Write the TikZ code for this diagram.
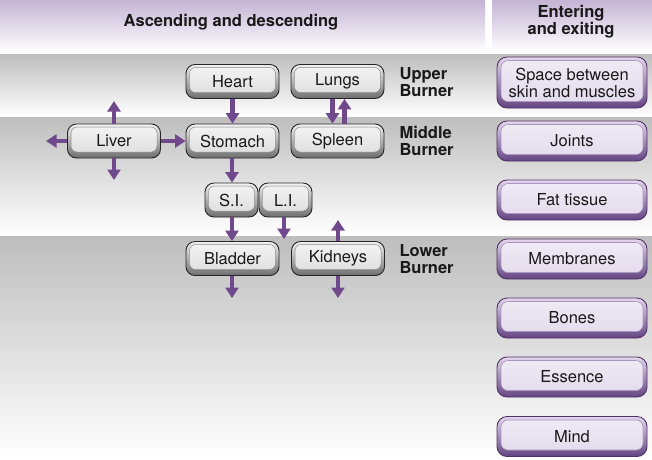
\documentclass[tikz,border=0pt]{standalone}
\usepackage{fontspec}
\setmainfont{TeX Gyre Heros}
\usetikzlibrary{arrows.meta}
\definecolor{arrowc}{RGB}{112,72,140}
\definecolor{hdrtop}{RGB}{196,180,213}
\definecolor{bandtop}{RGB}{190,190,190}
\definecolor{organtop}{RGB}{242,242,242}
\definecolor{organbot}{RGB}{110,110,110}
\definecolor{innertop}{RGB}{244,244,244}
\definecolor{innerbot}{RGB}{220,220,220}
\definecolor{seatline}{RGB}{78,50,101}
\definecolor{seattop}{RGB}{226,214,236}
\definecolor{seatbot}{RGB}{100,68,130}
\definecolor{seatintop}{RGB}{240,235,245}
\definecolor{seatinbot}{RGB}{226,218,236}
\definecolor{seatinline}{RGB}{170,150,190}
\begin{document}
\begin{tikzpicture}[x=1pt,y=-1pt,
  organ/.style={draw=black!85, line width=0.9pt, rounded corners=9pt,
    top color=organtop, bottom color=organbot,
    minimum width=93pt, minimum height=34pt, inner sep=0pt,
    font=\fontsize{16.5}{17}\selectfont, text=black!90,
    path picture={\draw[draw=black!45, line width=0.5pt, top color=innertop, bottom color=innerbot, rounded corners=6pt]
      ([shift={(3.5pt,-3pt)}]path picture bounding box.north west) rectangle
      ([shift={(-3.5pt,6pt)}]path picture bounding box.south east);}},
  seat/.style={draw=seatline, line width=0.9pt, rounded corners=10pt,
    top color=seattop, bottom color=seatbot,
    minimum width=150pt, minimum height=40pt, inner sep=0pt, align=center,
    font=\fontsize{16.5}{17}\selectfont, text=black!90,
    path picture={\draw[draw=seatinline, line width=0.6pt, top color=seatintop, bottom color=seatinbot, rounded corners=7pt]
      ([shift={(4pt,-3.5pt)}]path picture bounding box.north west) rectangle
      ([shift={(-4pt,6.5pt)}]path picture bounding box.south east);}},
  burner/.style={anchor=west, align=left, font=\fontsize{16.5}{17}\selectfont\bfseries, text=black!90},
  head/.style={align=center, font=\fontsize{16.5}{17}\selectfont\bfseries, text=black!90},
  arr/.style={draw=arrowc, line width=4.5pt, -{Triangle[width=13pt,length=10.5pt]}}
]
\useasboundingbox (0,0) rectangle (652,459);
\fill[white] (0,0) rectangle (652,459);
% header bands
\shade[top color=hdrtop, bottom color=white] (0,0) rectangle (485,52);
\shade[top color=hdrtop, bottom color=white] (492,0) rectangle (652,52);
% burner bands
\shade[top color=bandtop, bottom color=white] (0,54) rectangle (652,117);
\shade[top color=bandtop, bottom color=white] (0,117) rectangle (652,236);
\shade[top color=bandtop, bottom color=white] (0,236) rectangle (652,459);

% headers
\node[head] (hl) at (231,22) {Ascending and descending};
\node[head] (hr) at (571,22) {Entering\\and exiting};

% burner labels
\node[burner] (ub) at (396,82) {Upper\\Burner};
\node[burner] (mb) at (396,141) {Middle\\Burner};
\node[burner] (lb) at (396,259) {Lower\\Burner};

% organ nodes
\node[organ] (heart) at (232.5,81.5) {Heart};
\node[organ] (lungs) at (337.5,81.5) {Lungs};
\node[organ] (liver) at (114,141) {Liver};
\node[organ] (stomach) at (232.5,141) {Stomach};
\node[organ] (spleen) at (337.5,141) {Spleen};
\node[organ, minimum width=53pt] (si) at (231.5,200) {S.I.};
\node[organ, minimum width=53pt] (li) at (285.5,200) {L.I.};
\node[organ] (bladder) at (232.5,258.5) {Bladder};
\node[organ] (kidneys) at (338,258.5) {Kidneys};

% right column
\node[seat, minimum height=51pt] (space) at (572,82.5) {Space between\\skin and muscles};
\node[seat] (joints) at (572,141) {Joints};
\node[seat] (fat) at (572,200) {Fat tissue};
\node[seat] (membranes) at (572,259) {Membranes};
\node[seat] (bones) at (572,318) {Bones};
\node[seat] (essence) at (572,377) {Essence};
\node[seat] (mind) at (572,436.5) {Mind};

% free arrow ends
\coordinate (liverup) at (114,101);
\coordinate (liverleft) at (46,141);
\coordinate (liverdown) at (114,180);
\coordinate (lidown) at (284,239);
\coordinate (kidup) at (338,220);
\coordinate (bladdown) at (232,298);
\coordinate (kiddown) at (338,298);

% arrows
\draw[arr] (heart.south) -- (stomach.north);
\draw[arr] ([xshift=-5pt]lungs.south) -- ([xshift=-5pt]spleen.north);
\draw[arr] ([xshift=7pt]spleen.north) -- ([xshift=7pt]lungs.south);
\draw[arr] (liver.east) -- (stomach.west);
\draw[arr] (liver.north) -- (liverup);
\draw[arr] (liver.west) -- (liverleft);
\draw[arr] (liver.south) -- (liverdown);
\draw[arr] ([xshift=-0.5pt]stomach.south) -- ([xshift=-0.5pt]stomach.south |- si.north);
\draw[arr] ([xshift=0.5pt]si.south) -- ([xshift=0.5pt]si.south |- bladder.north);
\draw[arr] (li.south -| lidown) -- (lidown);
\draw[arr] (kidneys.north) -- (kidup);
\draw[arr] (bladder.south -| bladdown) -- (bladdown);
\draw[arr] (kidneys.south) -- (kiddown);
\end{tikzpicture}
\end{document}
